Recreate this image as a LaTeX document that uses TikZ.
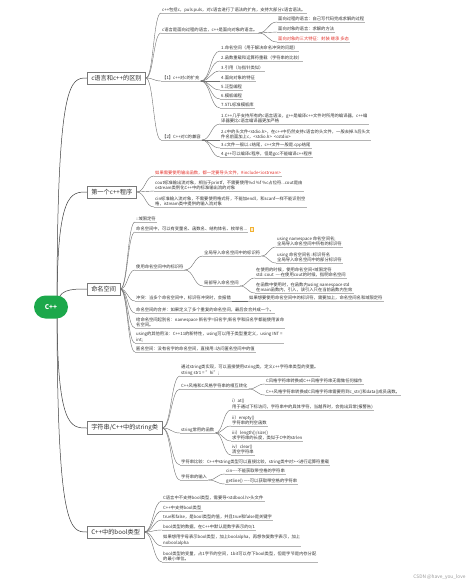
\documentclass[tikz,border=0pt]{standalone}
\usepackage{fontspec}
\setmainfont{Noto Sans CJK SC}
\usetikzlibrary{calc,backgrounds}
\definecolor{rootgreen}{HTML}{1CA84B}
\definecolor{rootline}{HTML}{3C3C3C}
\definecolor{linkgray}{HTML}{707070}
\definecolor{ulgray}{HTML}{B4B4B4}
\definecolor{boxgray}{HTML}{7A7A7A}
\definecolor{txtc}{HTML}{333333}
\definecolor{notered}{HTML}{E4322B}
\definecolor{tipyellow}{HTML}{F2B233}
\definecolor{wmgray}{HTML}{9A9A9A}
\newcommand\leaffont{\fontsize{4.3}{5.6}\selectfont}
\newcommand\branchfont{\fontsize{6.2}{7}\selectfont}
\newcommand\rootfont{\fontsize{6.5}{7}\selectfont\bfseries}

\begin{document}
\begin{tikzpicture}[
    x=1pt, y=-1pt,
    root/.style={
        fill=rootgreen,
        text=white,
        rounded corners=11.5pt,
        minimum width=34pt,
        minimum height=23pt,
        font=\rootfont
    },
    branch/.style={
        draw=boxgray,
        fill=white,
        line width=0.5pt,
        anchor=west,
        minimum height=12pt,
        inner xsep=4pt,
        font=\branchfont,
        text=txtc
    },
    leaf/.style={
        anchor=south west,
        inner xsep=1pt,
        inner ysep=0.7pt,
        align=left,
        font=\leaffont,
        text=txtc,
        append after command={(\tikzlastnode.south west) edge[draw=ulgray, line width=0.4pt] (\tikzlastnode.south east)}
    },
    tipicon/.style={draw=tipyellow, fill=tipyellow!25, line width=0.4pt, minimum width=3pt, minimum height=3.5pt, inner sep=0pt},
    wmark/.style={font=\fontsize{4.8}{5}\selectfont, text=wmgray},
    link/.style={
        draw=linkgray, line width=0.4pt,
        to path={let \p1=(\tikztostart), \p2=(\tikztotarget) in
            .. controls ({0.5*\x1+0.5*\x2},\y1) and ({0.5*\x1+0.5*\x2},\y2) .. (\tikztotarget)}
    },
    rootlink/.style={
        draw=rootline, line width=0.5pt,
        to path={let \p1=(\tikztostart), \p2=(\tikztotarget) in
            .. controls (\x1,\y2) and ({0.55*\x1+0.45*\x2},\y2) .. (\tikztotarget)}
    }
]
\useasboundingbox (0,0) rectangle (474,583);

\node[root] (cpp) at (51,307) {C++};
\coordinate (hub) at (57,307);
\node[branch] (diff) at (87,78) {c语言和c++的区别};
\node[branch] (first) at (87,192) {第一个c++程序};
\node[branch] (ns) at (87,289) {命名空间};
\node[branch] (str) at (87,428) {字符串/C++中的string类};
\node[branch] (boolt) at (87,532) {C++中的bool类型};

\node[leaf] (d1) at (161,13) {c++包括c，puls puls，对c语言进行了语法的扩充，支持大部分c语言语法。};
\node[leaf] (d2) at (161,33) {c语言是面向过程的语言，c++是面向对象的语言。};
\node[leaf] (d21) at (277,22) {面向过程的语言：自己写代码完成求解的过程};
\node[leaf] (d22) at (277,32) {面向对象的语言：求解的方法};
\node[leaf, text=notered] (d23) at (277,42) {面向对象的三大特征：封装 继承 多态};
\node[leaf] (d3) at (161,81) {【1】c++对c的扩充};
\node[leaf] (d31) at (220,51) {1.命名空间（用于解决命名冲突的问题）};
\node[leaf] (d32) at (220,61) {2.函数重载和运算符重载（字符串的比较）};
\node[leaf] (d33) at (220,71) {3.引用（与指针类似）};
\node[leaf] (d34) at (220,81) {4.面向对象的特征};
\node[leaf] (d35) at (220,90) {5.泛型编程};
\node[leaf] (d36) at (220,99) {6.模板编程};
\node[leaf] (d37) at (220,108) {7.STL标准模板库};
\node[leaf] (d4) at (161,140) {【2】C++对C的兼容};
\node[leaf] (d41) at (220,124) {1.C++几乎支持所有的c语言语法，g++是编译c++文件时所用的编译器，c++编\\译器要比c语言编译器更加严格};
\node[leaf] (d42) at (220,140) {2.c中的头文件<stdio.h>，在c++中仍然支持c语言的头文件，一般去掉.h后头文\\件名前面加上c，<stdio.h> \ <cstdio>};
\node[leaf] (d43) at (220,148) {3.c文件一般以.c结尾，c++文件一般是.cpp结尾};
\node[leaf] (d44) at (220,157) {4.g++可以编译c程序，但是gcc不能编译c++程序};

\node[leaf, text=notered] (f1) at (154,176) {如果需要使用输出函数，都一定要导头文件，\#include<iostream>};
\node[leaf] (f2) at (154,191) {cout标准输出流对象，相当于printf，不需要使用\%d \%f \%c占位符...cout是由\\ostream类例化C++中的标准输出流的对象};
\node[leaf] (f3) at (154,207) {cin标准输入流对象，不需要使用格式符，不能加endl，和scanf一样不能识别空\\格，istream类中提供的输入流对象};

\node[leaf] (n1) at (135,222) {::域限定符};
\node[leaf] (n2) at (135,232) {命名空间中，可以有变量名、函数名、结构体名、枚举名...};
\node[tipicon, anchor=west] (tip) at ([xshift=1.5pt]n2.east) {};
\node[leaf] (n3) at (135,270) {使用命名空间中的标识符};
\node[leaf] (n31) at (203,256) {全局导入命名空间中的标识符};
\node[leaf] (n311) at (276,247) {using namespace 命名空间名;\\全局导入命名空间中所有的标识符};
\node[leaf] (n312) at (276,263) {using 命名空间名::标识符名\\全局导入命名空间中的部分标识符};
\node[leaf] (n32) at (203,286) {局部导入命名空间};
\node[leaf] (n321) at (255,278) {在使用的时候，使用命名空间+域限定符\\std::cout \ ----在使用cout的时候，指明命名空间};
\node[leaf] (n322) at (255,293) {在函数中使用时，在函数内using namespace std\\在main函数内，引入，该引入只在当前函数内生效};
\node[leaf] (n4) at (135,301) {冲突：当多个命名空间中，标识符冲突时，会报错};
\node[leaf] (n41) at (248,301) {如果想要使用命名空间中的标识符，需要加上，命名空间名和域限定符};
\node[leaf] (n5) at (135,313) {命名空间的合并：如果定义了多个重复的命名空间，最后会合并成一个。};
\node[leaf] (n6) at (135,328) {给命名空间起别名：namespace 新名字=旧名字;新名字和旧名字都能使用该命\\名空间。};
\node[leaf] (n7) at (135,343) {using的其他用法：C++11的新特性，using可以用于类型重定义，using INT =\\int;};
\node[leaf] (n8) at (135,352) {匿名空间：没有名字的命名空间，直接用::访问匿名空间中的值};

\node[leaf] (s1) at (180,376) {通过string类实现，可以直接使用string类，定义c++字符串类型的变量。\\string str1 = "hi";};
\node[leaf] (s2) at (180,389) {C++风格和C风格字符串的相互转化};
\node[leaf] (s21) at (265,384) {C风格字符串转换成C++风格字符串无需做任何操作};
\node[leaf] (s22) at (265,395) {C++风格字符串转换成C风格字符串需要用到c\_str()和data()成员函数。};
\node[leaf] (s3) at (180,433) {string常用的函数};
\node[leaf] (s31) at (231,410) {i）at()\\用于通过下标访问，字符串中的具体字符，当越界时，会抛出异常(报警告)};
\node[leaf] (s32) at (231,426) {ii）empty()\\字符串的判空函数};
\node[leaf] (s33) at (231,441) {iii）length()/size()\\求字符串的长度，类似于C中的strlen};
\node[leaf] (s34) at (231,455) {iv）clear()\\清空字符串};
\node[leaf] (s4) at (180,465) {字符串比较：C++中string类型可以直接比较，string类中对> <进行运算符重载};
\node[leaf] (s5) at (180,480) {字符串的输入};
\node[leaf] (s51) at (225,474) {cin----不能获取带空格的字符串};
\node[leaf] (s52) at (225,484) {getline() -----可以获取带空格的字符串};

\node[leaf] (t1) at (162,501) {C语言中不支持bool类型，需要导<stdbool.h>头文件};
\node[leaf] (t2) at (162,511) {C++中支持bool类型};
\node[leaf] (t3) at (162,520) {true和false，是bool类型的值，并且true和false是关键字};
\node[leaf] (t4) at (162,530) {bool类型的数据，在C++中默认是数字表示的0/1};
\node[leaf] (t5) at (162,546) {如果想用字母表示bool类型，加上boolalpha，再想恢复数字表示，加上\\noboolalpha};
\node[leaf] (t6) at (162,562) {bool类型的变量，占1字节的空间，1bit可以存下bool类型，但是字节是内存分配\\的最小单位。};

\node[wmark, anchor=east] (csdn) at (469,577) {CSDN @have\_you\_love};

\foreach \kid in {d1,d2,d3,d4} \draw[link] (diff.east) to (\kid.south west);
\foreach \kid in {d21,d22,d23} \draw[link] (d2.south east) to (\kid.south west);
\foreach \kid in {d31,d32,d33,d34,d35,d36,d37} \draw[link] (d3.south east) to (\kid.south west);
\foreach \kid in {d41,d42,d43,d44} \draw[link] (d4.south east) to (\kid.south west);
\foreach \kid in {f1,f2,f3} \draw[link] (first.east) to (\kid.south west);
\foreach \kid in {n1,n2,n3,n4,n5,n6,n7,n8} \draw[link] (ns.east) to (\kid.south west);
\foreach \kid in {n31,n32} \draw[link] (n3.south east) to (\kid.south west);
\foreach \kid in {n311,n312} \draw[link] (n31.south east) to (\kid.south west);
\foreach \kid in {n321,n322} \draw[link] (n32.south east) to (\kid.south west);
\draw[link] (n4.south east) to (n41.south west);
\foreach \kid in {s1,s2,s3,s4,s5} \draw[link] (str.east) to (\kid.south west);
\foreach \kid in {s21,s22} \draw[link] (s2.south east) to (\kid.south west);
\foreach \kid in {s31,s32,s33,s34} \draw[link] (s3.south east) to (\kid.south west);
\foreach \kid in {s51,s52} \draw[link] (s5.south east) to (\kid.south west);
\foreach \kid in {t1,t2,t3,t4,t5,t6} \draw[link] (boolt.east) to (\kid.south west);

\begin{scope}[on background layer]
\fill[white] (0,0) rectangle (474,583);
\foreach \kid in {diff,first,ns,str,boolt} \draw[rootlink] (hub) to (\kid.west);
\end{scope}

\end{tikzpicture}
\end{document}
